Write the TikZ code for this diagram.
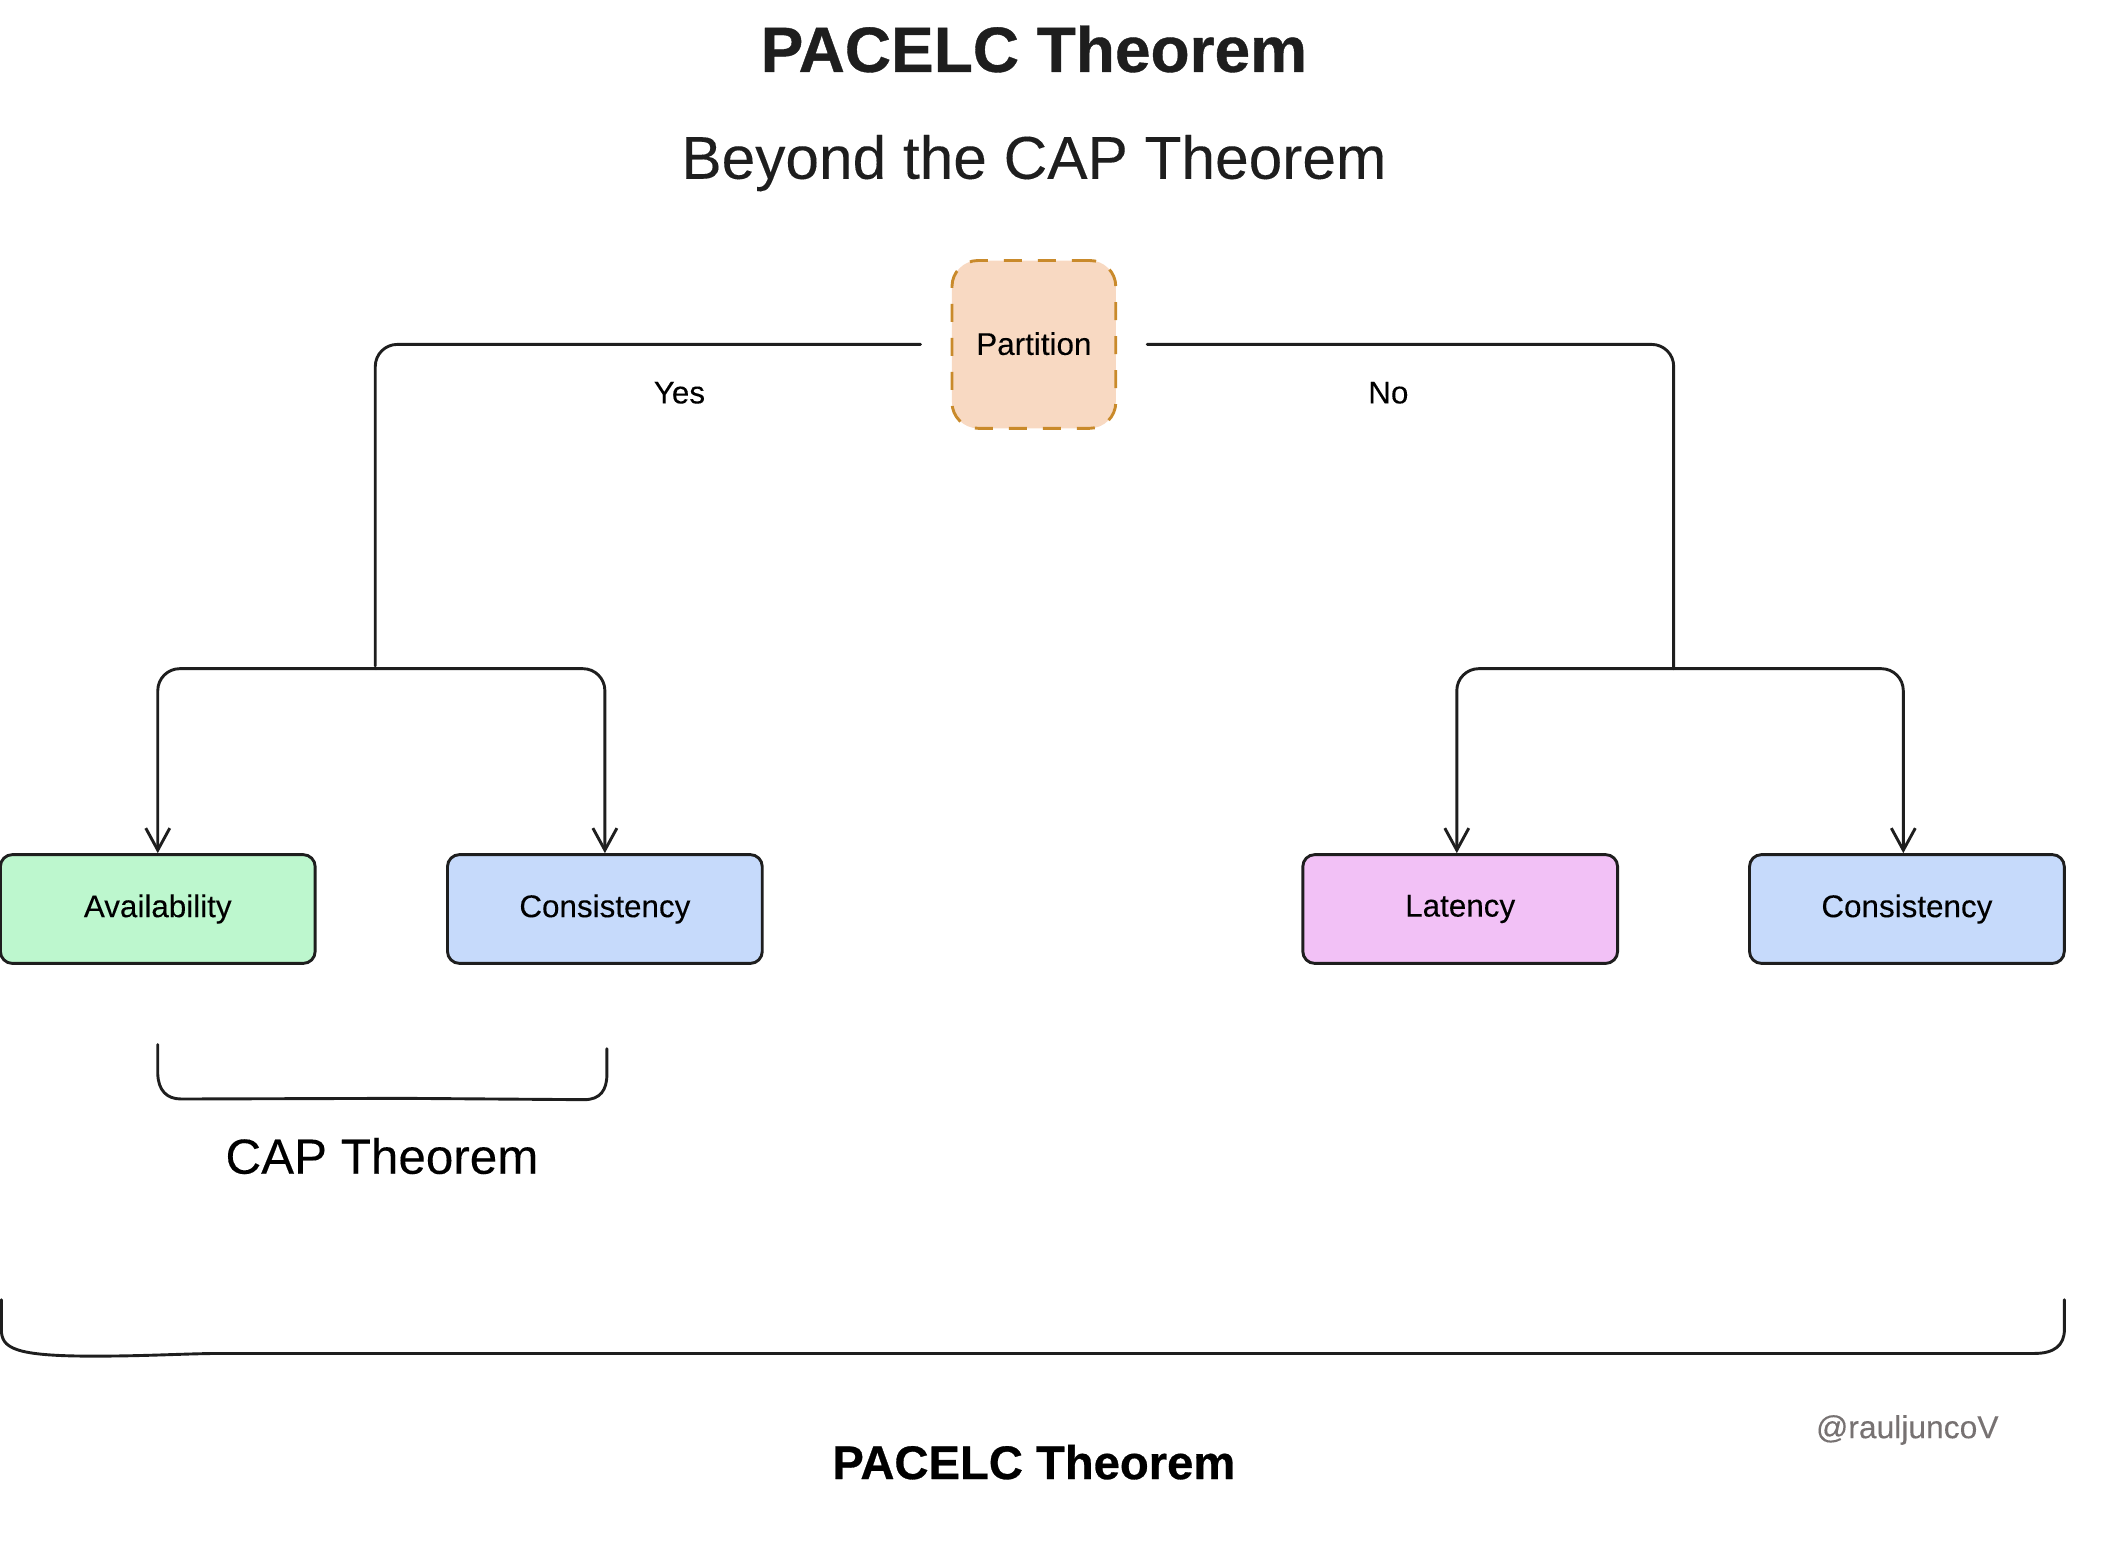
\documentclass[tikz,border=0pt]{standalone}
\usepackage{fontspec}
\setmainfont{Liberation Sans}
\newfontfamily\plainstroke{Liberation Sans}[FakeBold=0.15]
\newfontfamily\heavystroke{Liberation Sans Bold}[FakeBold=0.6]
\usetikzlibrary{arrows.meta,calc}
\definecolor{ink}{HTML}{1E1E1E}
\definecolor{amber}{HTML}{C98A2B}
\definecolor{peach}{HTML}{F8D9C2}
\definecolor{mint}{HTML}{BDF7CE}
\definecolor{sky}{HTML}{C6DAFB}
\definecolor{orchid}{HTML}{F2C1F6}
\definecolor{handle}{HTML}{777272}
\tikzset{
  x=0.67135pt,y=-0.67135pt,
  wire/.style={draw=ink,line width=1.45pt,rounded corners=11pt,line cap=round},
  arrowwire/.style={wire,-{Straight Barb[length=11pt,width=12pt,line width=1.45pt]}},
  choice/.style={draw=ink,line width=1.45pt,rounded corners=6pt,minimum width=157.4pt,minimum height=54.4pt,inner sep=0pt,font=\plainstroke\fontsize{15.7}{18}\selectfont},
  partbox/.style={draw=amber,fill=peach,line width=1.45pt,dash pattern=on 9pt off 8pt,rounded corners=13pt,minimum width=81.9pt,minimum height=83.9pt,inner sep=0pt,font=\plainstroke\fontsize{15.7}{18}\selectfont},
  small/.style={inner sep=0pt,font=\plainstroke\fontsize{15.7}{18}\selectfont},
  heading/.style={inner sep=0pt,text=ink,font=\heavystroke\fontsize{32}{36}\selectfont},
  subheading/.style={inner sep=0pt,text=ink,font=\plainstroke\fontsize{30.2}{34}\selectfont},
  caplabel/.style={inner sep=0pt,font=\plainstroke\fontsize{24.7}{28}\selectfont},
  pacelclabel/.style={inner sep=0pt,font=\heavystroke\fontsize{23.6}{28}\selectfont},
  credit/.style={inner sep=0pt,text=handle,font=\plainstroke\fontsize{15.9}{18}\selectfont}
}
\begin{document}
\begin{tikzpicture}
\useasboundingbox (0,0) rectangle (1567,1149.2);
\node[heading] (title) at (770,36.5) {PACELC Theorem};
\node[subheading] (sub) at (770,121.5) {Beyond the CAP Theorem};
\node[partbox] (part) at (770,256.5) {\raisebox{0.9pt}{Partition}};
\node[choice,fill=mint] (avail) at (117.5,677) {Availability};
\node[choice,fill=sky] (cons1) at (450.5,677) {Consistency};
\node[choice,fill=orchid] (lat) at (1087.5,677) {Latency};
\node[choice,fill=sky] (cons2) at (1420.2,677) {Consistency};
\node[small] (yes) at (506,292.5) {Yes};
\node[small] (no) at (1034,292.5) {No};
\node[caplabel] (cap) at (284.5,861) {CAP Theorem};
\node[pacelclabel] (pac) at (770,1089) {PACELC Theorem};
\node[credit] (cred) at (1420.5,1065) {@rauljuncoV};
\coordinate (jl) at (279.5,496);
\coordinate (jr) at (1246.5,498);
\coordinate (bl) at (280,498);
\draw[wire,shorten <=15pt] (part.west) -| (jl);
\draw[wire,shorten <=15pt] (part.east) -| (jr);
\draw[arrowwire] (bl) -| (avail.north);
\draw[arrowwire] (bl) -| (cons1.north);
\draw[arrowwire] (jr) -| ([xshift=-1.7pt]lat.north);
\draw[arrowwire] (jr) -| ([xshift=-1.8pt]cons2.north);
\coordinate (c1) at (117.5,778);
\coordinate (c2) at (452,781);
\draw[wire,rounded corners=0pt] (c1) -- (117.5,800) .. controls (118,812) and (124,818.5) .. (135,818.5) -- (300,818) -- (435,819) .. controls (447,819) and (452,812) .. (452,800) -- (c2);
\coordinate (p1) at (1,968);
\coordinate (p2) at (1537.5,968);
\draw[wire,rounded corners=0pt] (p1) -- (1,990) .. controls (1,1004) and (10,1010) .. (70,1010) .. controls (110,1010) and (140,1008) .. (165,1008) -- (1515,1008) .. controls (1530,1008) and (1537.5,1002) .. (1537.5,990) -- (p2);
\end{tikzpicture}
\end{document}
